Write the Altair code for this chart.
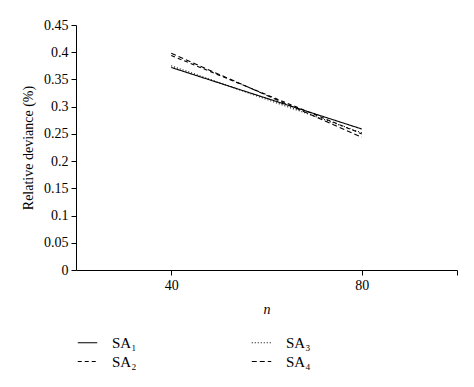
import altair as alt
import pandas as pd

n_values = [40, 80]
series = ["SA₁", "SA₂", "SA₃", "SA₄"]
sa1 = [0.372, 0.259]
sa2 = [0.394, 0.250]
sa3 = [0.375, 0.252]
sa4 = [0.398, 0.244]

rows = []
for name, vals in zip(series, [sa1, sa2, sa3, sa4]):
    for n, v in zip(n_values, vals):
        rows.append({"n": n, "value": v, "series": name})
df = pd.DataFrame(rows)

FONT = "Liberation Serif"

legend_cfg = dict(title=None, orient="none", legendX=1, legendY=307, columns=2,
                  columnPadding=112, rowPadding=0, symbolType="stroke",
                  symbolStrokeColor="black", symbolSize=380, labelFontSize=15,
                  labelFont=FONT, labelOffset=14)

chart = alt.Chart(df).mark_line(color="black").encode(
    x=alt.X("n:Q", scale=alt.Scale(domain=[20, 100], nice=False),
            axis=alt.Axis(values=[40, 80, 100], title="n", grid=False,
                          labelExpr="datum.value == 100 ? '' : datum.label",
                          titleFontStyle="italic", titleFontWeight="normal",
                          titlePadding=10)),
    y=alt.Y("value:Q", scale=alt.Scale(domain=[0, 0.45], nice=False),
            axis=alt.Axis(values=[0, 0.05, 0.1, 0.15, 0.2, 0.25, 0.3, 0.35, 0.4, 0.45],
                          format=".2~f", title="Relative deviance (%)", grid=False,
                          titleFontWeight="normal", titlePadding=8)),
    strokeDash=alt.StrokeDash("series:N",
                              scale=alt.Scale(domain=series,
                                              range=[[1, 0], [4, 3], [1, 2], [5, 3]]),
                              legend=alt.Legend(**legend_cfg)),
    strokeWidth=alt.StrokeWidth("series:N",
                                scale=alt.Scale(domain=series, range=[1.1, 1.1, 1.1, 2.5]),
                                legend=alt.Legend(**legend_cfg)),
).properties(
    width=381, height=245,
    autosize=alt.AutoSizeParams(type="none"),
    padding={"left": 68, "top": 17, "right": 8, "bottom": 100},
).configure_view(stroke=None).configure_axis(
    domainColor="black", tickColor="black", labelColor="black", titleColor="black",
    labelFont=FONT, titleFont=FONT, labelFontSize=14, titleFontSize=14, tickSize=5,
    labelPadding=3,
)

chart.save("out.html", embed_options={"renderer": "svg", "actions": False})
